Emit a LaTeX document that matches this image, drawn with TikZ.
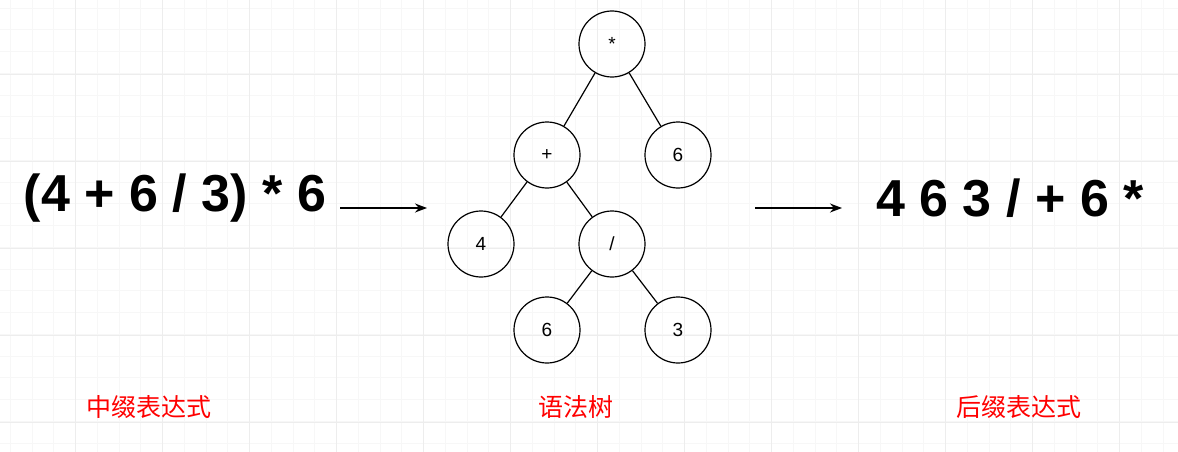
\documentclass[tikz,border=0pt]{standalone}
\usepackage{fontspec}
\setmainfont{Liberation Sans}
\newfontfamily\cjk{Noto Sans CJK SC}
\usetikzlibrary{arrows.meta}
\begin{document}
\begin{tikzpicture}[x=1pt,y=-1pt,
  tn/.style={circle,draw,line width=1.2pt,minimum size=66pt,inner sep=0pt,font=\fontsize{19}{21}\selectfont},
  edge/.style={line width=1.2pt},
  big/.style={font=\bfseries\fontsize{52}{56}\selectfont},
  lab/.style={text=red,font=\cjk\fontsize{25}{28}\selectfont},
  arr/.style={line width=1.5pt,-{Stealth[length=12pt,width=9pt]}}]
\useasboundingbox (0,0) rectangle (1178,452);
\fill[white] (0,0) rectangle (1178,452);
\foreach \x in {10.25,32,...,1178} \draw[black!3,line width=0.8pt] (\x,0) -- (\x,452);
\foreach \y in {8,29.75,...,452} \draw[black!3,line width=0.8pt] (0,\y) -- (1178,\y);
\foreach \x in {75.5,162.5,...,1178} \draw[black!7,line width=0.8pt] (\x,0) -- (\x,452);
\foreach \y in {74,161,...,452} \draw[black!7,line width=0.8pt] (0,\y) -- (1178,\y);
\node[tn] (m) at (612,44) {*};
\node[tn] (p) at (547,155) {+};
\node[tn] (s1) at (678,155) {6};
\node[tn] (f) at (481,244) {4};
\node[tn] (d) at (612,244) {/};
\node[tn] (s2) at (547,330) {6};
\node[tn] (t) at (678,330) {3};
\draw[edge] (m) -- (p); \draw[edge] (m) -- (s1);
\draw[edge] (p) -- (f); \draw[edge] (p) -- (d);
\draw[edge] (d) -- (s2); \draw[edge] (d) -- (t);
\node[big] (in) at (175,198) {(4 + 6 / 3) * 6};
\node[big] (post) at (1010,198) {4 6 3 / + 6 *};
\coordinate (a1) at (340,208); \coordinate (a2) at (427,208);
\coordinate (b1) at (755,208); \coordinate (b2) at (842,208);
\draw[arr] (a1) -- (a2);
\draw[arr] (b1) -- (b2);
\node[lab] (l1) at (149,407) {中缀表达式};
\node[lab] (l2) at (576,407) {语法树};
\node[lab] (l3) at (1019,407) {后缀表达式};
\end{tikzpicture}
\end{document}
